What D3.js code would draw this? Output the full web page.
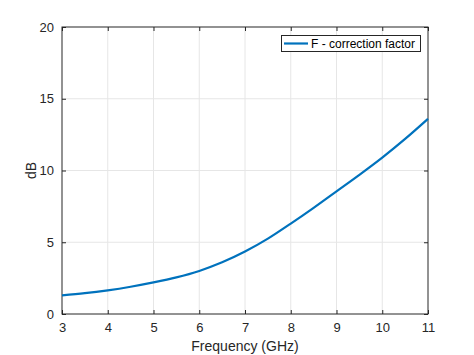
<!DOCTYPE html>
<html><head><meta charset="utf-8">
<script src="https://d3js.org/d3.v7.min.js"></script>
<style>body{margin:0;background:#fff;} svg{display:block;font-family:"Liberation Sans",Arial,sans-serif;}</style>
</head><body>
<svg id="c" width="474" height="355"></svg>
<script>
const freq = [3,3.5,4,4.5,5,5.5,6,6.5,7,7.5,8,8.5,9,9.5,10,10.5,11];
const corr = [1.3,1.45,1.65,1.9,2.2,2.55,3.0,3.6,4.35,5.25,6.3,7.4,8.55,9.7,10.9,12.2,13.6];
const xTicks = [3,4,5,6,7,8,9,10,11];
const yTicks = [0,5,10,15,20];
const seriesName = "F - correction factor";

const svg = d3.select("#c");
const L=62,R=428,T=27,B=314;
const x = d3.scaleLinear().domain([3,11]).range([L,R]);
const y = d3.scaleLinear().domain([0,20]).range([B,T]);
const axisCol="#262626", gridCol="#e6e6e6";

// grid
svg.append("g").selectAll("line.gx").data(xTicks.slice(1,-1)).join("line")
  .attr("x1",d=>x(d)).attr("x2",d=>x(d)).attr("y1",T).attr("y2",B)
  .attr("stroke",gridCol).attr("stroke-width",1);
svg.append("g").selectAll("line.gy").data(yTicks.slice(1,-1)).join("line")
  .attr("y1",d=>y(d)).attr("y2",d=>y(d)).attr("x1",L).attr("x2",R)
  .attr("stroke",gridCol).attr("stroke-width",1);

// axes
const ax = (g)=>{g.select(".domain").remove(); g.selectAll("line").attr("stroke",axisCol);};
svg.append("g").attr("transform",`translate(0,${B})`)
  .call(d3.axisBottom(x).tickValues(xTicks).tickSize(-4).tickPadding(9).tickFormat(d3.format("d")))
  .call(ax).selectAll("text").attr("font-size",13).attr("fill",axisCol).attr("font-family","Liberation Sans, Arial, sans-serif");
svg.append("g").attr("transform",`translate(0,${T})`)
  .call(d3.axisTop(x).tickValues(xTicks).tickSize(-4).tickFormat(""))
  .call(ax);
svg.append("g").attr("transform",`translate(${L},0)`)
  .call(d3.axisLeft(y).tickValues(yTicks).tickSize(-4).tickPadding(8).tickFormat(d3.format("d")))
  .call(ax).selectAll("text").attr("font-size",13).attr("fill",axisCol).attr("font-family","Liberation Sans, Arial, sans-serif");
svg.append("g").attr("transform",`translate(${R},0)`)
  .call(d3.axisRight(y).tickValues(yTicks).tickSize(-4).tickFormat(""))
  .call(ax);

svg.append("rect").attr("x",L).attr("y",T).attr("width",R-L).attr("height",B-T)
  .attr("fill","none").attr("stroke",axisCol).attr("stroke-width",1);

// line
svg.append("path").datum(freq.map((f,i)=>[f,corr[i]]))
  .attr("fill","none").attr("stroke","#0072BD").attr("stroke-width",2.2)
  .attr("d",d3.line().x(d=>x(d[0])).y(d=>y(d[1])).curve(d3.curveMonotoneX));

// labels
svg.append("text").attr("x",(L+R)/2).attr("y",351).attr("text-anchor","middle")
  .attr("font-size",14).attr("fill",axisCol).text("Frequency (GHz)");
svg.append("text").attr("transform",`translate(36,${(T+B)/2}) rotate(-90)`).attr("text-anchor","middle")
  .attr("font-size",14).attr("fill",axisCol).text("dB");

// legend
const lg = svg.append("g");
lg.append("rect").attr("x",281.5).attr("y",35.5).attr("width",139).attr("height",16)
  .attr("fill","#fff").attr("stroke",axisCol).attr("stroke-width",1);
lg.append("line").attr("x1",284).attr("x2",308).attr("y1",43.5).attr("y2",43.5)
  .attr("stroke","#0072BD").attr("stroke-width",2.2);
lg.append("text").attr("x",311).attr("y",48).attr("font-size",12).attr("fill","#000").text(seriesName);
</script>
</body></html>
